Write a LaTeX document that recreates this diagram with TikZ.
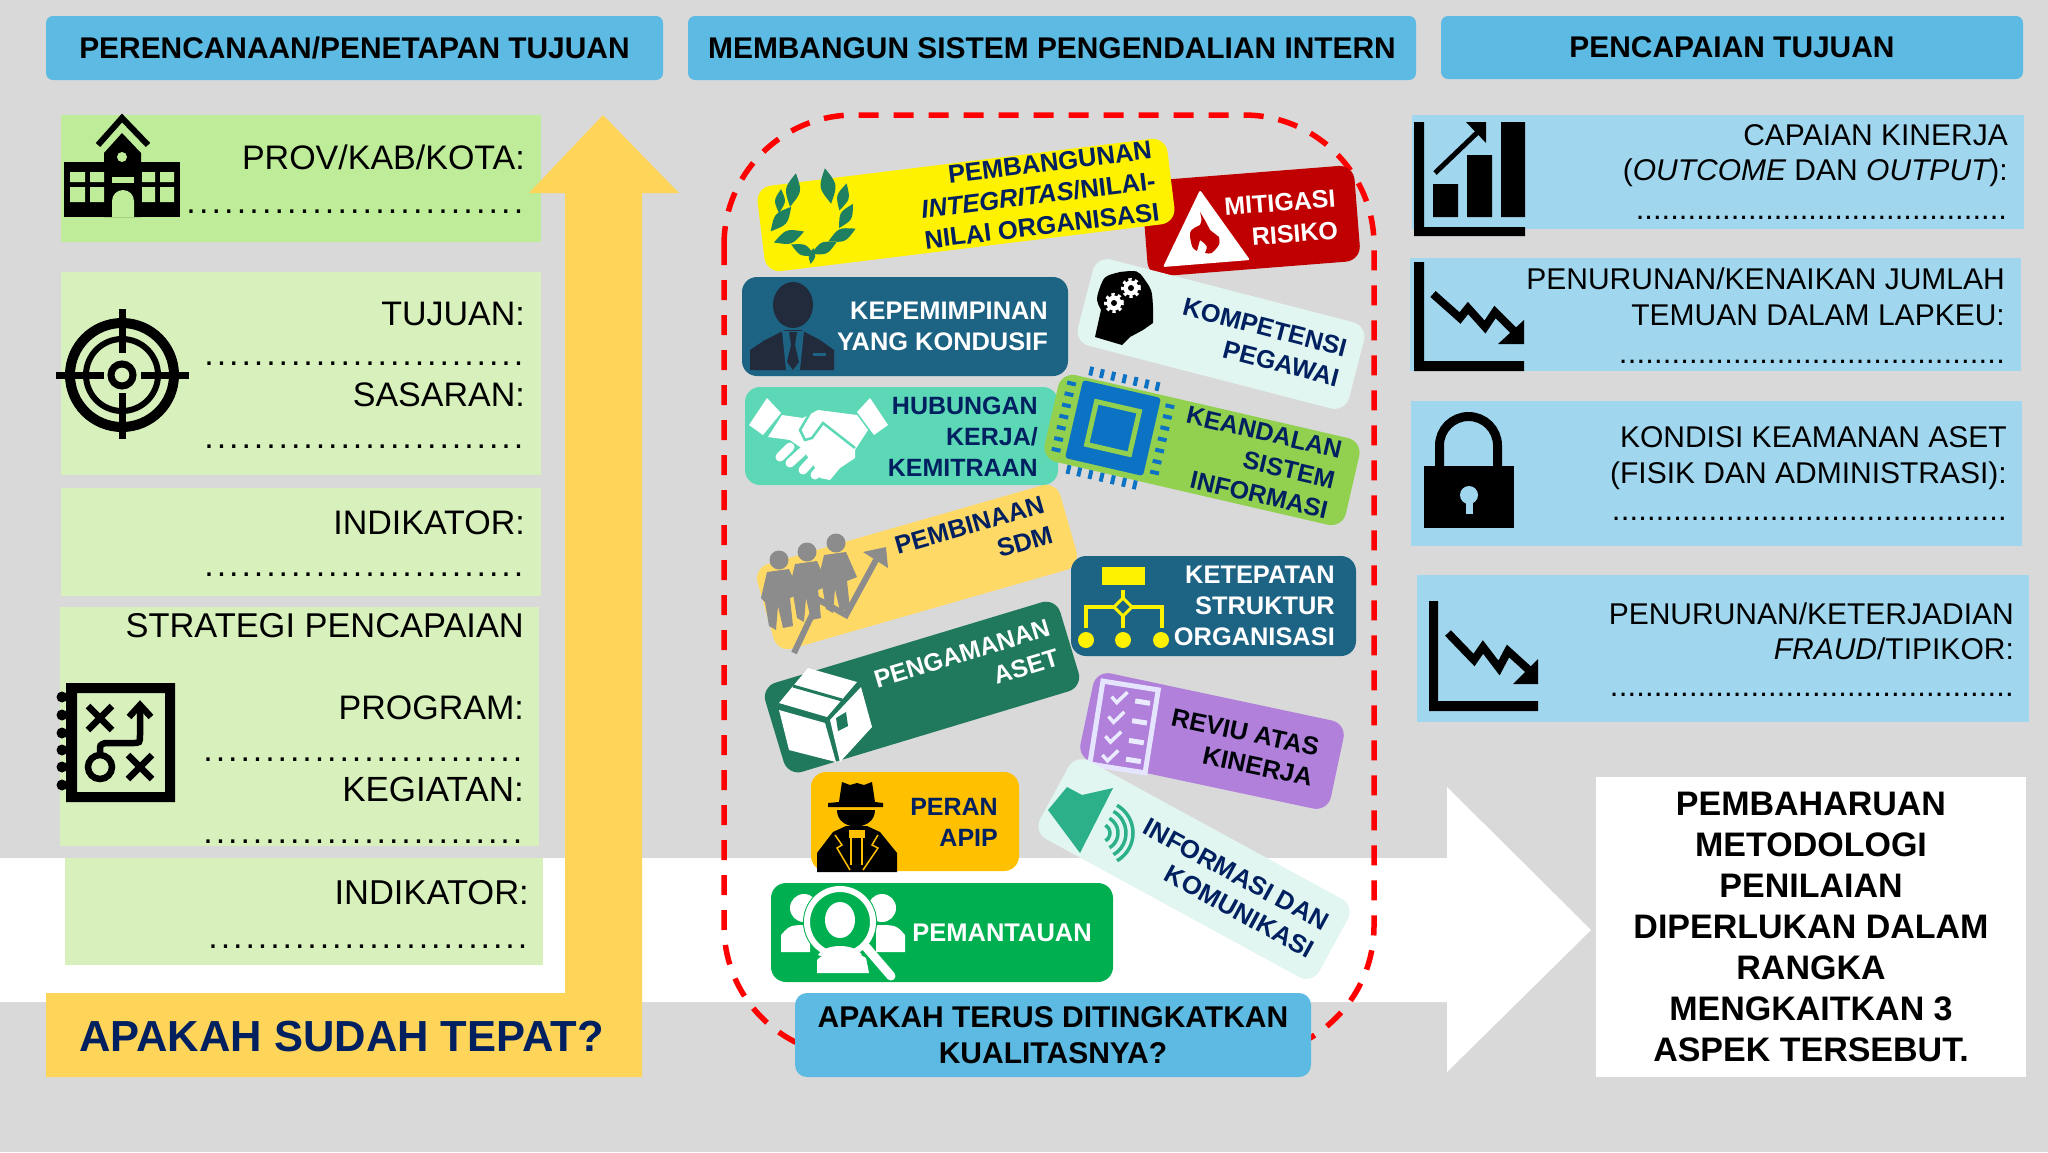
\documentclass[tikz,border=0pt]{standalone}
\usepackage{fontspec}
\setmainfont{Liberation Sans}
\definecolor{bgc}{HTML}{D9D9D9}
\definecolor{hdr}{HTML}{5CBAE3}
\definecolor{pale}{HTML}{A0D7EF}
\definecolor{greenA}{HTML}{BEEC98}
\definecolor{greenB}{HTML}{D8F1BC}
\definecolor{gold}{HTML}{FFD559}
\definecolor{navy}{HTML}{002060}
\definecolor{teal}{HTML}{1C6384}
\definecolor{darkp}{HTML}{212B3C}
\definecolor{mint}{HTML}{5CD8B6}
\definecolor{ice}{HTML}{E2F6F1}
\definecolor{olive}{HTML}{92D050}
\definecolor{pemb}{HTML}{FFD966}
\definecolor{peng}{HTML}{20795C}
\definecolor{purp}{HTML}{B080DA}
\definecolor{leafg}{HTML}{1E8060}
\definecolor{peran}{HTML}{FFC000}
\definecolor{pant}{HTML}{00B050}
\definecolor{redd}{HTML}{C00000}
\definecolor{chip}{HTML}{0B72C4}
\definecolor{greyp}{HTML}{8C8C8C}
\definecolor{sea}{HTML}{2BB08A}
\newcommand{\fs}[2]{\fontsize{#1}{#2}\selectfont}
\newcommand{\dotrow}[2]{\hbox to #1pt{\xleaders\hbox to #2pt{\hss.\hss}\hfill}}
\newcommand{\leaf}[4]{\begin{scope}[shift={(#1,#2)},rotate=#3]\fill[leafg] (-#4,0) .. controls (0,{-0.55*#4}) .. (#4,0) .. controls (0,{0.55*#4}) .. cycle;\end{scope}}
\newcommand{\gear}[2]{\draw[white,line width=4pt,dash pattern=on 3pt off 3pt] (#1,#2) circle[radius=8pt];\fill[white] (#1,#2) circle[radius=7.5pt];\fill[black] (#1,#2) circle[radius=3pt];}
\tikzset{
  x=1pt,y=-1pt,
  lbl/.style={inner sep=0pt,font=\fs{34}{40},text=black,anchor=east,align=right},
  lblr/.style={inner sep=0pt,font=\fs{30}{35.5},text=black,anchor=east,align=right},
  dotl/.style={inner sep=0pt,font=\fs{34}{40},anchor=base east},
  dotr/.style={inner sep=0pt,font=\fs{31}{36},anchor=base east},
  hdrbox/.style={fill=hdr,rounded corners=7pt,inner sep=0pt,font=\bfseries\fs{29.9}{36},text=black},
  pillbox/.style={rounded corners=15pt,inner sep=0pt},
  pilltxt/.style={inner sep=0pt,font=\bfseries\fs{25.4}{31},align=right,anchor=east},
  pinA/.style={fill=chip}
}
\begin{document}
\begin{tikzpicture}
\useasboundingbox (0,0) rectangle (2048,1152);
\fill[bgc] (0,0) rectangle (2048,1152);
% white arrow
\fill[white] (0,858) -- (1447,858) -- (1447,787) -- (1591,930) -- (1447,1072) -- (1447,1002) -- (0,1002) -- cycle;
% headers
\node[hdrbox,minimum width=617pt,minimum height=64pt] (h1) at (354.5,48) {\raisebox{-1pt}{PERENCANAAN/PENETAPAN TUJUAN}};
\node[hdrbox,minimum width=728pt,minimum height=64pt] (h2) at (1052,48) {\raisebox{-1pt}{MEMBANGUN SISTEM PENGENDALIAN INTERN}};
\node[hdrbox,minimum width=582pt,minimum height=63pt] (h3) at (1732,47.5) {\raisebox{-1pt}{PENCAPAIAN TUJUAN}};
% green boxes
\fill[greenA] (61,115) rectangle (541,242);
\fill[greenB] (61,272) rectangle (541,475);
\fill[greenB] (61,488) rectangle (541,596);
\fill[greenB] (60,607) rectangle (539,846);
\fill[greenB] (65,858) rectangle (543,965);
% yellow L arrow
\fill[gold] (46,993) -- (565,993) -- (565,193) -- (529,193) -- (603,115) -- (679,193) -- (642,193) -- (642,1077) -- (46,1077) -- cycle;
\node[inner sep=0pt,font=\bfseries\fs{43.5}{50},text=navy] (q1) at (341.5,1037) {APAKAH SUDAH TEPAT?};
% left texts
\node[lbl] (t1) at (525,157) {PROV/KAB/KOTA:};
\node[dotl] (d1) at (525,213) {\dotrow{340}{12.4}};
\node[lbl] (t2) at (525,314) {TUJUAN:};
\node[dotl] (d2) at (525,365) {\dotrow{322}{12}};
\node[lbl] (t3) at (525,395) {SASARAN:};
\node[dotl] (d3) at (525,448) {\dotrow{322}{12}};
\node[lbl] (t4) at (525,523) {INDIKATOR:};
\node[dotl] (d4) at (525,576) {\dotrow{322}{12}};
\node[lbl,font=\fs{34.4}{40}] (t5) at (524,626) {STRATEGI PENCAPAIAN};
\node[lbl] (t6) at (524,708) {PROGRAM:};
\node[dotl] (d6) at (524,761) {\dotrow{322}{12}};
\node[lbl,font=\fs{35}{40}] (t7) at (524,789) {KEGIATAN:};
\node[dotl] (d7) at (524,843) {\dotrow{322}{12}};
\node[lbl,font=\fs{34.5}{40}] (t8) at (529,893) {INDIKATOR:};
\node[dotl] (d8) at (529,948) {\dotrow{322}{12}};
% school icon
\fill[black] (64,162) rectangle (180,217);
\fill[black] (104,217) -- (104,153) -- (122,133) -- (141,153) -- (141,217) -- cycle;
\draw[black,line width=6pt] (98,145) -- (122,118) -- (148,145);
\fill[greenA] (70,172) rectangle (85,182) (90,172) rectangle (104,182) (70,187) rectangle (85,202) (90,187) rectangle (104,202);
\fill[greenA] (142,172) rectangle (155,182) (160,172) rectangle (174,182) (142,187) rectangle (155,202) (160,187) rectangle (174,202);
\fill[greenA] (112,177) rectangle (134,183);
\fill[greenA] (112,217) -- (112,201) arc[start angle=180,end angle=0,radius=11pt] -- (134,217) -- cycle;
\fill[greenA] (122,157) circle[radius=5pt];
% target icon
\draw[black,line width=10pt] (122,375) circle[radius=52pt];
\draw[black,line width=6pt] (122,375) circle[radius=36pt];
\draw[black,line width=7pt] (122,375) circle[radius=11pt];
\draw[black,line width=7pt] (56,375) -- (104,375) (141,375) -- (189,375) (122,309) -- (122,353) (122,393) -- (122,439);
% map icon
\foreach \yy in {697,715,733,750,767,785} {\fill[black] (62,\yy) circle[radius=5.5pt];}
\fill[black,even odd rule] (66,683) rectangle (175,802) (77,693) rectangle (165,792);
\draw[black,line width=6.5pt] (88,706) -- (112,730) (112,706) -- (88,730) (128,755) -- (152,779) (152,755) -- (128,779);
\draw[black,line width=6.5pt] (100,767) circle[radius=12pt];
\draw[black,line width=6.5pt] (100,755) -- (100,750) .. controls (100,745) .. (105,743) -- (132,743) .. controls (140,743) .. (140,735) -- (140,705);
\draw[black,line width=6.5pt] (129,717) -- (140,705) -- (151,717);
% right panels
\fill[pale] (1412,115) rectangle (2024,229);
\fill[pale] (1410,258) rectangle (2021,371);
\fill[pale] (1411,401) rectangle (2022,546);
\fill[pale] (1417,575) rectangle (2029,722);
\node[lblr] (r1) at (2008,155.5) {CAPAIAN KINERJA\\(\itshape OUTCOME\upshape{} DAN \itshape OUTPUT\upshape ):};
\node[dotr] (rd1) at (2007,219) {\dotrow{371}{8.6}};
\node[lblr] (r2) at (2005,297) {PENURUNAN/KENAIKAN JUMLAH\\TEMUAN DALAM LAPKEU:};
\node[dotr] (rd2) at (2005,363) {\dotrow{386}{8.6}};
\node[lblr] (r3) at (2007,458) {KONDISI KEAMANAN ASET\\(FISIK DAN ADMINISTRASI):};
\node[dotr] (rd3) at (2007,520) {\dotrow{395}{8.6}};
\node[lblr] (r4) at (2014,631.5) {PENURUNAN/KETERJADIAN\\\itshape FRAUD\upshape /TIPIKOR:};
\node[dotr] (rd4) at (2014,696) {\dotrow{404}{8.6}};
% chart up icon
\fill[black] (1414,122) rectangle (1424,236) (1414,227) rectangle (1525,236);
\fill[black] (1433,184) rectangle (1458,217) (1467,155) rectangle (1492,217) (1501,122) rectangle (1525,217);
\draw[black,line width=5pt] (1435,173) -- (1481,129);
\fill[black] (1466,122) -- (1486,122) -- (1486,143) -- cycle;
% chart down icons
\fill[black] (1414,262) rectangle (1424,371) (1414,361) rectangle (1524,371);
\draw[black,line width=8pt,line join=miter] (1433,294) -- (1460,318) -- (1468,308) -- (1485,327) -- (1495,312) -- (1516,333);
\fill[black] (1524,320) -- (1524,344) -- (1498,344) -- cycle;
\fill[black] (1429,601) rectangle (1438,711) (1429,701) rectangle (1538,711);
\draw[black,line width=8pt,line join=miter] (1448,633) -- (1474,660) -- (1483,647) -- (1499,668) -- (1508,651) -- (1530,671);
\fill[black] (1538,659) -- (1538,684) -- (1513,684) -- cycle;
% lock
\fill[black] (1424,466) rectangle (1514,528);
\draw[black,line width=9pt] (1439.5,468) -- (1439.5,445.5) arc[start angle=180,end angle=0,radius=29pt] -- (1497.5,468);
\fill[pale] (1469,495) circle[radius=9pt];
\fill[pale] (1465.5,496) rectangle (1472.5,514);
% dashed frame
\draw[red,line width=5.5pt,dash pattern=on 20pt off 15pt,rounded corners=130pt] (724,115) rectangle (1374,1056);
% red pill
\begin{scope}[shift={(1251,221)},rotate=4.5,transform shape]
\node[pillbox,fill=redd,minimum width=213pt,minimum height=96pt] (pRed) at (0,0) {};
\node[pilltxt,text=white,font=\bfseries\fs{25}{32}] (tRed) at (86,0) {MITIGASI\\RISIKO};
\end{scope}
\fill[white,rounded corners=2pt] (1200,190) -- (1163,267) -- (1250,260) -- cycle;
\fill[redd] (1200,212) .. controls (1206,222) .. (1210,230) .. controls (1214,234) .. (1219,237) .. controls (1220,244) .. (1215,250) .. controls (1211,254) .. (1205,253) .. controls (1208,246) .. (1200,240) .. controls (1198,246) .. (1197,251) .. controls (1192,248) .. (1190,237) .. controls (1190,230) .. (1200,225) .. controls (1202,220) .. cycle;
% yellow pill
\begin{scope}[shift={(966,205)},rotate=7,transform shape]
\node[pillbox,fill=yellow,minimum width=413pt,minimum height=86pt] (pYel) at (0,0) {};
\node[pilltxt,text=navy,font=\bfseries\fs{25.6}{31}] (tYel) at (191,-1) {PEMBANGUNAN\\\itshape INTEGRITAS\upshape /NILAI-\\NILAI ORGANISASI};
\end{scope}
\leaf{793}{190}{80}{17}\leaf{828}{186}{100}{18}
\leaf{780}{201}{85}{12}\leaf{843}{197}{75}{14}
\leaf{781}{219}{50}{16}\leaf{846}{216}{60}{14}
\leaf{789}{237}{20}{16}\leaf{842}{235}{25}{15}
\leaf{803}{250}{-25}{13}\leaf{824}{248}{25}{14}
\leaf{812}{256}{80}{8}
% leadership pill
\node[pillbox,fill=teal,minimum width=326pt,minimum height=99pt] (pLead) at (905,326.5) {};
\node[pilltxt,text=white] (tLead) at (1048,326.5) {KEPEMIMPINAN\\YANG KONDUSIF};
\fill[darkp] (793,305) ellipse[x radius=20pt,y radius=23pt];
\fill[darkp] (750,370) -- (750,350) -- (765,340) -- (785,330) -- (801,330) -- (820,340) -- (834,350) -- (834,370) -- cycle;
\fill[teal] (782,331) -- (804,331) -- (800,370) -- (786,370) -- cycle;
\fill[darkp] (789,332) -- (797,332) -- (795,345) -- (799,362) -- (793,370) -- (787,362) -- (791,345) -- cycle;
\fill[teal] (813,353) rectangle (826,356);
% pembinaan
\begin{scope}[shift={(917,567)},rotate=16,transform shape]
\node[pillbox,fill=pemb,minimum width=315pt,minimum height=88pt] (pPem) at (0,0) {};
\node[pilltxt,text=navy] (tPem) at (139,-10) {PEMBINAAN\\SDM};
\end{scope}
\foreach \hx/\hy in {779/560,807/552,836/543} {
  \fill[greyp] (\hx,\hy) circle[radius=9.5pt];
  \fill[greyp] (\hx-12,\hy+12) -- (\hx+10,\hy+9) -- (\hx+21,\hy+34) -- (\hx+11,\hy+38) -- (\hx+14,\hy+66) -- (\hx+4,\hy+68) -- (\hx-1,\hy+46) -- (\hx-3,\hy+70) -- (\hx-10,\hy+66) -- (\hx-14,\hy+42) -- (\hx-18,\hy+38) -- cycle;
}
\draw[greyp,line width=6pt] (794,653) -- (819,600) -- (846,615) -- (876,560);
\fill[greyp] (863,552) -- (886,547) -- (888,568) -- cycle;
% hub
\node[pillbox,fill=mint,minimum width=313pt,minimum height=98pt] (pHub) at (901.5,436) {};
\node[pilltxt,text=navy,font=\bfseries\fs{25}{31}] (tHub) at (1038,437) {HUBUNGAN\\KERJA/\\KEMITRAAN};
\fill[white] (767,398) -- (781,413) -- (763,435) -- (749,425) -- cycle;
\fill[white] (870,398) -- (857,412) -- (874,435) -- (888,425) -- cycle;
\fill[white] (782,415) -- (803,418) -- (818,410) -- (857,415) -- (868,430) -- (855,450) -- (855,458) -- (840,468) -- (830,480) -- (820,478) -- (812,462) -- (800,447) -- (790,440) -- (768,437) -- cycle;
\draw[white,line width=9pt,line cap=round] (780,457) -- (790,447) (790,463) -- (802,452) (803,470) -- (812,460) (815,475) -- (822,467);
\draw[mint,line width=2.5pt] (810,413) -- (800,430) -- (805,440) -- (812,438) -- (823,423) -- (855,448);
% kompetensi
\begin{scope}[shift={(1221,334)},rotate=-14.5,transform shape]
\node[pillbox,fill=ice,minimum width=280pt,minimum height=89pt] (pKom) at (0,0) {};
\node[pilltxt,text=navy] (tKom) at (125,-2) {KOMPETENSI\\PEGAWAI};
\end{scope}
\fill[black] (1095,337) -- (1101,310) .. controls (1096,300) .. (1099,290) .. controls (1104,276) .. (1120,272) .. controls (1138,270) .. (1145,280) .. controls (1152,290) .. (1153,307) -- (1153,323) -- (1143,330) -- (1130,337) -- (1122,345) -- cycle;
\gear{1131}{288}\gear{1114}{303}
% keandalan
\begin{scope}[shift={(1202,450)},rotate=-13,transform shape]
\node[pillbox,fill=olive,minimum width=309pt,minimum height=89pt] (pKea) at (0,0) {};
\node[pilltxt,text=navy,font=\bfseries\fs{25}{31}] (tKea) at (136,0) {KEANDALAN\\SISTEM\\INFORMASI};
\end{scope}
\begin{scope}[shift={(1113,428)},rotate=-13]
\fill[chip,rounded corners=3pt] (-40,-40) rectangle (40,40);
\draw[olive,line width=5pt,fill=chip] (-22,-22) rectangle (22,22);
\foreach \k in {-34,-23,-11.5,0,11.5,23,34} {
  \fill[pinA] (\k-2,-55) rectangle (\k+2,-46);
  \fill[pinA] (\k-2,46) rectangle (\k+2,55);
  \fill[pinA] (-55,\k-2) rectangle (-46,\k+2);
  \fill[pinA] (46,\k-2) rectangle (55,\k+2);
}
\end{scope}
% pengamanan
\begin{scope}[shift={(922,687)},rotate=16.8,transform shape]
\node[pillbox,fill=peng,minimum width=308pt,minimum height=93pt] (pPeng) at (0,0) {};
\node[pilltxt,text=white,font=\bfseries\fs{25}{31}] (tPeng) at (139,-5) {PENGAMANAN\\ASET};
\end{scope}
\fill[white] (779,703) -- (808,668) -- (857,682) -- (827,717) -- cycle;
\fill[white] (779,710) -- (825,723) -- (836,762) -- (789,750) -- cycle;
\fill[white] (830,720) -- (861,687) -- (872,727) -- (840,762) -- cycle;
\draw[peng,line width=3pt] (793,686) -- (842,700);
\fill[peng] (836,718) -- (846,712) -- (848,726) -- (838,731) -- cycle;
% ketepatan
\node[pillbox,fill=teal,minimum width=285pt,minimum height=100pt] (pKet) at (1213.5,606) {};
\node[pilltxt,text=white,font=\bfseries\fs{25.4}{31}] (tKet) at (1335,606) {KETEPATAN\\STRUKTUR\\ORGANISASI};
\fill[yellow] (1102,567) rectangle (1145,585);
\draw[yellow,line width=4pt] (1123,590) -- (1123,628) (1086,628) -- (1086,607) -- (1162,607) -- (1162,628);
\draw[yellow,line width=3pt,fill=teal] (1123,598) -- (1132,607) -- (1123,616) -- (1114,607) -- cycle;
\fill[yellow] (1086,640) circle[radius=8pt] (1123,640) circle[radius=8pt] (1161,640) circle[radius=8pt];
% reviu
\begin{scope}[shift={(1212,741)},rotate=-12,transform shape]
\node[pillbox,fill=purp,minimum width=256pt,minimum height=90pt] (pRev) at (0,0) {};
\node[pilltxt,text=black!90!navy] (tRev) at (106,0) {REVIU ATAS\\KINERJA};
\end{scope}
\begin{scope}[shift={(1124,727)},rotate=-9]
\draw[blue!10!white,line width=5pt] (-28,-42) rectangle (28,42);
\foreach \k in {-28,-8,12,31} {
  \draw[blue!8!white,line width=3.5pt] (-17,\k) -- (-11,\k+5) -- (-2,\k-7);
  \fill[blue!8!white] (7,\k-2) rectangle (22,\k+3);
}
\end{scope}
% informasi
\begin{scope}[shift={(1194,869)},rotate=-28.6,transform shape]
\node[pillbox,fill=ice,minimum width=318pt,minimum height=89pt] (pInf) at (0,0) {};
\node[pilltxt,text=navy,font=\bfseries\fs{25.6}{31}] (tInf) at (143,0) {INFORMASI DAN\\KOMUNIKASI};
\end{scope}
\fill[sea] (1048,810) -- (1067,787) -- (1082,795) -- (1113,788) -- (1080,853) -- cycle;
\foreach \rr in {9,17,25,32} {
  \draw[sea,line width=3.5pt] (1101,833) ++(-60:\rr pt) arc[start angle=-60,end angle=60,radius=\rr pt];
}
% peran
\node[pillbox,fill=peran,minimum width=208pt,minimum height=99pt] (pPer) at (915,821.5) {};
\node[pilltxt,text=navy,font=\bfseries\fs{25}{31}] (tPer) at (998,822.5) {PERAN\\APIP};
\fill[black] (842,782) -- (850,785) -- (857,783) -- (864,785) -- (872,782) -- (875,802) -- (883,803) -- (883,807) -- (828,807) -- (828,803) -- (839,802) -- cycle;
\fill[black] (837,810) -- (875,810) .. controls (875,832) and (837,832) .. cycle;
\fill[black] (817,872) -- (817,853) -- (833,832) -- (846,826) -- (867,826) -- (880,832) -- (897,853) -- (897,872) -- cycle;
\draw[peran,line width=1.5pt] (835,835) -- (842,845) -- (837,848) -- (850,870) (878,835) -- (872,845) -- (878,848) -- (863,870);
\fill[peran] (849,830) rectangle (865,838);
\draw[peran,line width=1.5pt] (851,838) -- (851,865) (862,838) -- (862,865);
% pemantauan
\node[pillbox,fill=pant,minimum width=342pt,minimum height=99pt] (pMan) at (942,932.5) {};
\node[pilltxt,text=white,font=\bfseries\fs{25.5}{31}] (tMan) at (1092,933) {PEMANTAUAN};
\fill[white] (804,908) circle[radius=14pt] (882,908) circle[radius=14pt];
\fill[white] (781,952) -- (781,935) .. controls (790,925) .. (810,925) -- (810,952) -- cycle;
\fill[white] (905,952) -- (905,935) .. controls (896,925) .. (876,925) -- (876,952) -- cycle;
\fill[pant] (840,922) circle[radius=37pt];
\fill[white] (817,973) -- (817,960) .. controls (825,950) and (855,950) .. (866,958) -- (869,973) -- cycle;
\fill[white] (840,920) ellipse[x radius=15pt,y radius=18pt];
\fill[white] (818,955) .. controls (825,943) and (855,943) .. (862,955) .. controls (850,960) and (830,960) .. cycle;
\draw[white,line width=6pt] (840,922) circle[radius=33pt];
\draw[white,line width=9pt,line cap=round] (866,947) -- (891,976);
% question box
\node[hdrbox,rounded corners=12pt,minimum width=516pt,minimum height=84pt,align=center,font=\bfseries\fs{30}{36}] (q2) at (1053,1035) {APAKAH TERUS DITINGKATKAN\\KUALITASNYA?};
% white box
\node[fill=white,inner sep=0pt,minimum width=430pt,minimum height=300pt,align=center,font=\bfseries\fs{34}{41}] (w1) at (1811,927) {PEMBAHARUAN\\METODOLOGI\\PENILAIAN\\DIPERLUKAN DALAM\\RANGKA\\MENGKAITKAN 3\\ASPEK TERSEBUT.};
\end{tikzpicture}
\end{document}
